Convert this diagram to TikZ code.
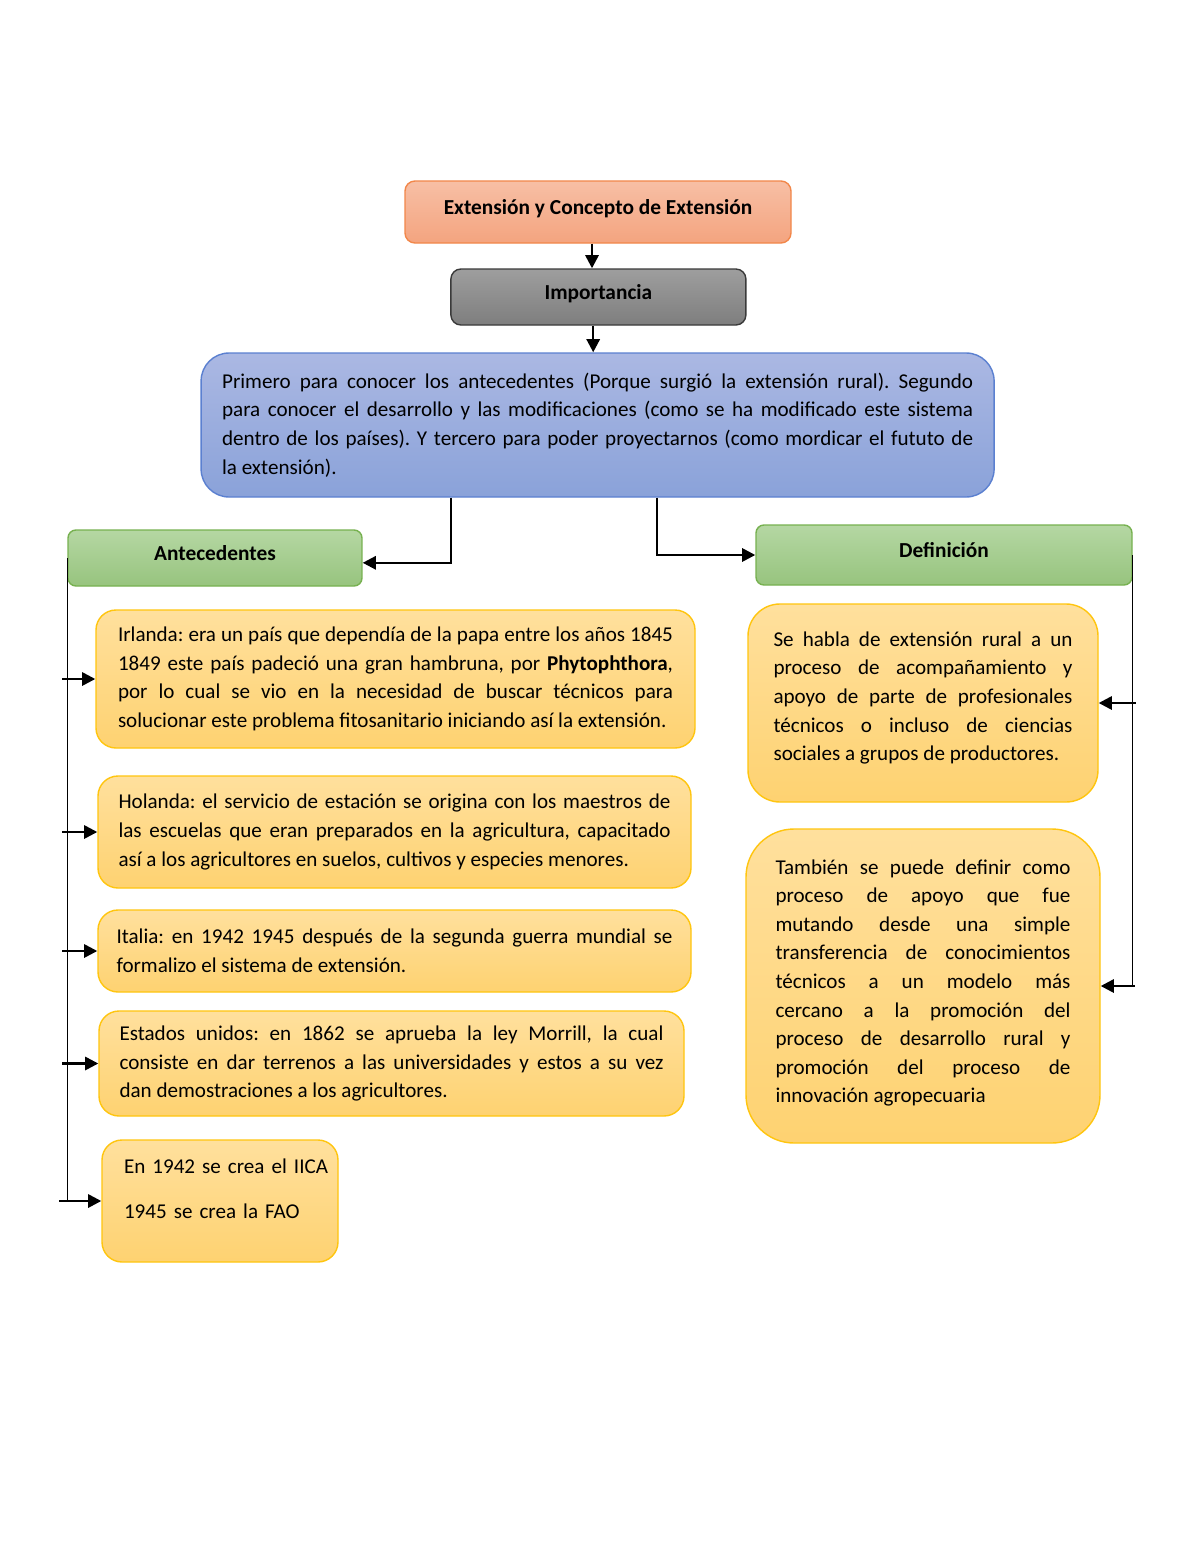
\documentclass[tikz,border=0pt]{standalone}
\usepackage{fontspec}
\setmainfont{Carlito}
\usetikzlibrary{arrows.meta}
\frenchspacing

\definecolor{naranjaarriba}{HTML}{F7BFA5}
\definecolor{naranjaabajo}{HTML}{F4A47F}
\definecolor{naranjaborde}{HTML}{F2874A}
\definecolor{grisarriba}{HTML}{9E9E9E}
\definecolor{grisabajo}{HTML}{7E7E7E}
\definecolor{grisborde}{HTML}{3A3A3A}
\definecolor{azularriba}{HTML}{ABB8E3}
\definecolor{azulabajo}{HTML}{8AA2D9}
\definecolor{azulborde}{HTML}{5B80D0}
\definecolor{verdearriba}{HTML}{B5D7A3}
\definecolor{verdeabajo}{HTML}{97C47E}
\definecolor{verdeborde}{HTML}{77B150}
\definecolor{ambararriba}{HTML}{FFE09D}
\definecolor{ambarabajo}{HTML}{FED271}
\definecolor{ambarborde}{HTML}{FFC50F}

\begin{document}
\begin{tikzpicture}[
	texto/.style={font=\fontsize{15}{20.3}\selectfont, inner sep=0pt},
	negrita/.style={font=\fontsize{15.2}{20.3}\selectfont\bfseries, inner sep=0pt, text depth=0.25cm},
	naranja/.style={negrita, draw=naranjaborde, line width=1pt, top color=naranjaarriba, bottom color=naranjaabajo},
	gris/.style={negrita, draw=grisborde, line width=1pt, top color=grisarriba, bottom color=grisabajo},
	azul/.style={texto, draw=azulborde, line width=1pt, top color=azularriba, bottom color=azulabajo, align=justify},
	verde/.style={negrita, draw=verdeborde, line width=1pt, top color=verdearriba, bottom color=verdeabajo, rounded corners=0.2cm},
	amarilla/.style={texto, draw=ambarborde, line width=1pt, top color=ambararriba, bottom color=ambarabajo, align=justify},
	flecha/.style={-{Triangle[length=0.33cm,width=0.33cm]}, line width=1.8pt},
	linea/.style={line width=1pt}
]
	\fill[white] (0,0) rectangle (30,-38.825);

	\node[naranja, minimum width=9.65cm, minimum height=1.55cm, rounded corners=0.25cm] (titulo) at (14.95,-5.3) {Extensión y Concepto de Extensión};
	\node[gris, minimum width=7.375cm, minimum height=1.4cm, rounded corners=0.25cm] (importancia) at (14.96,-7.425) {Importancia};
	\node[azul, minimum width=19.825cm, minimum height=3.6cm, text width=18.775cm, rounded corners=0.7cm] (primero) at (14.94,-10.625) {Primero para conocer los antecedentes (Porque surgió la extensión rural). Segundo\linebreak para conocer el desarrollo y las modificaciones (como se ha modificado este sistema\linebreak dentro de los países). Y tercero para poder proyectarnos (como mordicar el fututo de\linebreak la extensión).};

	\node[verde, minimum width=7.35cm, minimum height=1.4cm] (antecedentes) at (5.375,-13.95) {Antecedentes};
	\node[verde, minimum width=9.4cm, minimum height=1.5cm] (definicion) at (23.6,-13.875) {Definición};

	\node[amarilla, minimum width=14.975cm, minimum height=3.45cm, text width=13.875cm, rounded corners=0.5cm] (irlanda) at (9.8875,-16.975) {Irlanda: era un país que dependía de la papa entre los años 1845\linebreak 1849 este país padeció una gran hambruna, por \textbf{Phytophthora},\linebreak por lo cual se vio en la necesidad de buscar técnicos para\linebreak solucionar este problema fitosanitario iniciando así la extensión.};
	\node[amarilla, minimum width=14.825cm, minimum height=2.8cm, text width=13.8cm, rounded corners=0.5cm] (holanda) at (9.8625,-20.8) {Holanda: el servicio de estación se origina con los maestros de\linebreak las escuelas que eran preparados en la agricultura, capacitado\linebreak así a los agricultores en suelos, cultivos y especies menores.};
	\node[amarilla, minimum width=14.825cm, minimum height=2.05cm, text width=13.9cm, rounded corners=0.5cm] (italia) at (9.8625,-23.775) {Italia: en 1942 1945 después de la segunda guerra mundial se\linebreak formalizo el sistema de extensión.};
	\node[amarilla, minimum width=14.625cm, minimum height=2.625cm, text width=13.6cm, rounded corners=0.5cm] (estados) at (9.7875,-26.5875) {Estados unidos: en 1862 se aprueba la ley Morrill, la cual\linebreak consiste en dar terrenos a las universidades y estos a su vez\linebreak dan demostraciones a los agricultores.};
	\node[amarilla, align=left, minimum width=5.9cm, minimum height=3.05cm, text width=4.8cm, rounded corners=0.5cm] (iica) at (5.5,-30.025) {\mbox{En 1942 se crea el IICA}\\[0.41cm]\mbox{1945 se crea la FAO}\par\kern0.62cm};

	\node[amarilla, minimum width=8.75cm, minimum height=4.95cm, text width=7.475cm, rounded corners=0.8cm] (def1) at (23.075,-17.575) {Se habla de extensión rural a un\linebreak proceso de acompañamiento y\linebreak apoyo de parte de profesionales\linebreak técnicos o incluso de ciencias\linebreak sociales a grupos de productores.\par\kern0.25cm};
	\node[amarilla, minimum width=8.85cm, minimum height=7.85cm, text width=7.375cm, rounded corners=1.2cm] (def2) at (23.075,-24.65) {También se puede definir como\linebreak proceso de apoyo que fue\linebreak mutando desde una simple\linebreak transferencia de conocimientos\linebreak técnicos a un modelo más\linebreak cercano a la promoción del\linebreak proceso de desarrollo rural y\linebreak promoción del proceso de\linebreak innovación agropecuaria\par\kern0.15cm};

	\draw[flecha] ([xshift=-0.15cm]titulo.south) -- ([xshift=-0.15cm]titulo.south |- importancia.north);
	\draw[flecha] ([xshift=-0.13cm]importancia.south) -- ([xshift=-0.13cm]importancia.south |- primero.north);
	\draw[flecha] ([xshift=-3.66cm]primero.south) |- ([yshift=-0.12cm]antecedentes.east);
	\draw[flecha] ([xshift=1.49cm]primero.south) |- (definicion.west);

	\draw[linea] (antecedentes.west) -- (antecedentes.west |- iica.west);
	\draw[flecha] ([xshift=-0.12cm]antecedentes.west |- irlanda.west) -- (irlanda.west);
	\draw[flecha] ([xshift=-0.12cm]antecedentes.west |- holanda.west) -- (holanda.west);
	\draw[flecha] ([xshift=-0.12cm]antecedentes.west |- italia.west) -- (italia.west);
	\draw[flecha] ([xshift=-0.12cm]antecedentes.west |- estados.west) -- (estados.west);
	\draw[flecha] ([xshift=-0.2cm]antecedentes.west |- iica.west) -- (iica.west);

	\draw[linea] (definicion.east) -- (definicion.east |- def2.east);
	\draw[flecha] ([xshift=0.08cm]definicion.east |- def1.east) -- (def1.east);
	\draw[flecha] ([xshift=0.05cm]definicion.east |- def2.east) -- (def2.east);
\end{tikzpicture}
\end{document}
